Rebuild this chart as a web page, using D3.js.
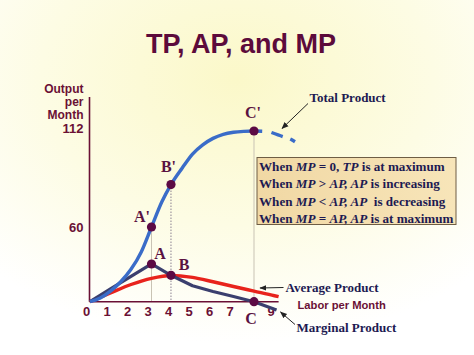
<!DOCTYPE html>
<html>
<head>
<meta charset="utf-8">
<script src="https://cdn.jsdelivr.net/npm/d3@7"></script>
<style>
  body { margin: 0; background: #fff; }
  svg { display: block; }
</style>
</head>
<body>
<div id="chart"></div>
<script>
// Data (labor per month -> output per month)
const laborTicks = [0, 1, 2, 3, 4, 5, 6, 7, 9];
const outputTicks = [60, 112];

const tpSolid = [[0, 0], [0.5, 3], [1, 8.5], [1.5, 16], [2, 26], [2.5, 40], [3, 60], [3.5, 73.5],
  [3.95, 83], [4.5, 92], [5, 99.5], [5.5, 104.5], [6, 108], [6.5, 110.2], [7, 111.3],
  [7.5, 111.8], [8, 112], [8.4, 111.9]];
const tpDashed = [[8.85, 111.2], [9.4, 109], [9.8, 107.5], [10, 106.2]];
const apData = [[0, 0], [1, 7], [2, 13.8], [3, 18.8], [3.95, 21.1], [5, 19.5], [6, 16],
  [7, 12.2], [8, 8.5], [9, 4.8], [9.2, 4]];
const mpData = [[0, 0], [1, 10.3], [2, 20.4], [3, 30.3], [3.95, 21.2], [5, 12.8], [6, 8.2],
  [7, 4.2], [8, 0], [9.1, -6.7]];

const points = [
  { name: "A'", L: 3, v: 60 },
  { name: "B'", L: 3.95, v: 83 },
  { name: "C'", L: 8, v: 112 },
  { name: "A", L: 3, v: 30.3 },
  { name: "B", L: 3.95, v: 21.2 },
  { name: "C", L: 8, v: 0 }
];

const rules = [
  [["When ", false], ["MP", true], [" = 0, ", false], ["TP", true], [" is at maximum", false]],
  [["When ", false], ["MP", true], [" > ", false], ["AP, AP", true], [" is increasing", false]],
  [["When ", false], ["MP", true], [" < ", false], ["AP, AP", true], ["  is decreasing", false]],
  [["When ", false], ["MP", true], [" = ", false], ["AP, AP", true], [" is at maximum", false]]
];

// Set dimensions
const W = 474, H = 355;
const maroon = "#6a1035";
const navy = "#1d1a52";

const svg = d3.select("#chart")
  .append("svg")
  .attr("width", W)
  .attr("height", H);

const defs = svg.append("defs");
const bg = defs.append("radialGradient")
  .attr("id", "bg")
  .attr("cx", "50%").attr("cy", "22%").attr("r", "75%");
bg.append("stop").attr("offset", "0%").attr("stop-color", "#fbf8c9");
bg.append("stop").attr("offset", "55%").attr("stop-color", "#fdfce4");
bg.append("stop").attr("offset", "100%").attr("stop-color", "#ffffff");

const boxGrad = defs.append("linearGradient").attr("id", "boxg");
boxGrad.append("stop").attr("offset", "0%").attr("stop-color", "#f1d8a4");
boxGrad.append("stop").attr("offset", "100%").attr("stop-color", "#f7e5b9");

defs.append("marker")
  .attr("id", "arrow")
  .attr("viewBox", "0 0 10 10")
  .attr("refX", 9).attr("refY", 5)
  .attr("markerWidth", 7).attr("markerHeight", 7)
  .attr("markerUnits", "userSpaceOnUse")
  .attr("orient", "auto")
  .append("path")
  .attr("d", "M0,1 L10,5 L0,9 Z")
  .attr("fill", "#222");

svg.append("rect")
  .attr("width", W).attr("height", H)
  .attr("fill", "url(#bg)");

// Title
svg.append("text")
  .attr("x", 241).attr("y", 53)
  .attr("text-anchor", "middle")
  .style("font", "bold 27px 'Liberation Sans', Arial, sans-serif")
  .style("fill", "#5c0b3b")
  .text("TP, AP, and MP");

// Scales
const x = d3.scaleLinear().domain([0, 9]).range([90, 274.5]);
const y = d3.scaleLinear().domain([0, 60, 112, 130]).range([301.7, 227, 131, 97]);

// Guide lines down to the labor axis
const guide = svg.append("g");
[[3, 60, null], [3.95, 83, "1.5,1.5"], [8, 112, null]].forEach(([L, v, dash]) => {
  guide.append("line")
    .attr("x1", x(L)).attr("x2", x(L))
    .attr("y1", y(v)).attr("y2", y(0))
    .attr("stroke", dash ? "#8a8090" : "#c9c3b4")
    .attr("stroke-width", 1)
    .attr("stroke-dasharray", dash);
});

// Axes lines
svg.append("line")
  .attr("x1", x(0) - 0.5).attr("x2", x(0) - 0.5)
  .attr("y1", y(130)).attr("y2", y(0))
  .attr("stroke", maroon).attr("stroke-width", 1.6);
svg.append("line")
  .attr("x1", x(0) - 0.5).attr("x2", x(9.2))
  .attr("y1", y(0)).attr("y2", y(0))
  .attr("stroke", maroon).attr("stroke-width", 1.6);

// X tick labels
const xAxis = svg.append("g")
  .attr("transform", `translate(-4, ${y(0)})`)
  .call(d3.axisBottom(x).tickValues(laborTicks).tickSize(0).tickPadding(5).tickFormat(d3.format("d")));
xAxis.select(".domain").remove();
xAxis.selectAll("text")
  .style("font", "bold 13px 'Liberation Sans', Arial, sans-serif")
  .style("fill", maroon);

// Y tick labels
const yAxis = svg.append("g")
  .attr("transform", `translate(${x(0) - 0.5}, 0)`)
  .call(d3.axisLeft(y).tickValues(outputTicks).tickSize(0).tickPadding(6));
yAxis.select(".domain").remove();
yAxis.selectAll("text")
  .style("font", "bold 13px 'Liberation Sans', Arial, sans-serif")
  .style("fill", maroon)
  .attr("dy", d => d === 112 ? "0.13em" : "0.32em");

// Y axis title
svg.append("text")
  .attr("text-anchor", "end")
  .style("font", "bold 12px 'Liberation Sans', Arial, sans-serif")
  .style("fill", maroon)
  .selectAll("tspan")
  .data(["Output", "per", "Month"])
  .enter().append("tspan")
  .attr("x", 83.5)
  .attr("y", (d, i) => 92.7 + i * 13.3)
  .text(d => d);

// X axis title
svg.append("text")
  .attr("x", 297.5).attr("y", 309)
  .style("font", "bold 11.2px 'Liberation Sans', Arial, sans-serif")
  .style("fill", maroon)
  .text("Labor per Month");

// Curves
const line = d3.line().x(d => x(d[0])).y(d => y(d[1]));

svg.append("path")
  .attr("d", line.curve(d3.curveMonotoneX)(apData))
  .attr("fill", "none")
  .attr("stroke", "#e8231c")
  .attr("stroke-width", 3.4);

svg.append("path")
  .attr("d", line.curve(d3.curveLinear)(mpData))
  .attr("fill", "none")
  .attr("stroke", "#3b3f6e")
  .attr("stroke-width", 3.2)
  .attr("stroke-linejoin", "round");

svg.append("path")
  .attr("d", line.curve(d3.curveMonotoneX)(tpSolid))
  .attr("fill", "none")
  .attr("stroke", "#3a6cc8")
  .attr("stroke-width", 3.4);

svg.append("path")
  .attr("d", line.curve(d3.curveMonotoneX)(tpDashed))
  .attr("fill", "none")
  .attr("stroke", "#3a6cc8")
  .attr("stroke-width", 3.4)
  .attr("stroke-dasharray", "12,8");

// Points
svg.selectAll(".pt")
  .data(points)
  .enter().append("circle")
  .attr("class", "pt")
  .attr("cx", d => x(d.L))
  .attr("cy", d => y(d.v))
  .attr("r", 4.6)
  .attr("fill", "#5c0a44");

// Point labels
const labelOffset = {
  "A'": [-9.5, -5], "B'": [-2.5, -13], "C'": [-1, -13],
  "A": [8.5, -5], "B": [13, -5.5], "C": [-3, 22.5]
};
svg.selectAll(".plab")
  .data(points)
  .enter().append("text")
  .attr("class", "plab")
  .attr("x", d => x(d.L) + labelOffset[d.name][0])
  .attr("y", d => y(d.v) + labelOffset[d.name][1])
  .attr("text-anchor", "middle")
  .style("font", "bold 16px 'Liberation Serif', 'Times New Roman', serif")
  .style("fill", "#5a1242")
  .text(d => d.name);

// Rules box
const box = svg.append("g");
box.append("rect")
  .attr("x", 257).attr("y", 157.5)
  .attr("width", 199).attr("height", 67)
  .attr("fill", "url(#boxg)")
  .attr("stroke", "#6e5d44")
  .attr("stroke-width", 1);

box.selectAll("text")
  .data(rules)
  .enter().append("text")
  .attr("x", 259)
  .attr("y", (d, i) => 171 + i * 17.4)
  .style("font", "bold 13.1px 'Liberation Serif', 'Times New Roman', serif")
  .style("fill", navy)
  .style("white-space", "pre")
  .attr("xml:space", "preserve")
  .each(function (parts) {
    d3.select(this).selectAll("tspan")
      .data(parts)
      .enter().append("tspan")
      .style("font-style", p => p[1] ? "italic" : "normal")
      .text(p => p[0]);
  });

// Curve annotations
const notes = [
  { text: "Total Product", tx: 309.5, ty: 102, from: [308, 103.5], to: [282, 128.5] },
  { text: "Average Product", tx: 285.5, ty: 291.8, from: [283.5, 287.5], to: [260, 288] },
  { text: "Marginal Product", tx: 296.5, ty: 331.8, from: [295, 324.5], to: [280.5, 312] }
];
notes.forEach(n => {
  svg.append("line")
    .attr("x1", n.from[0]).attr("y1", n.from[1])
    .attr("x2", n.to[0]).attr("y2", n.to[1])
    .attr("stroke", "#222").attr("stroke-width", 1)
    .attr("marker-end", "url(#arrow)");
  svg.append("text")
    .attr("x", n.tx).attr("y", n.ty)
    .style("font", "bold 13px 'Liberation Serif', 'Times New Roman', serif")
    .style("fill", navy)
    .text(n.text);
});
</script>
</body>
</html>
